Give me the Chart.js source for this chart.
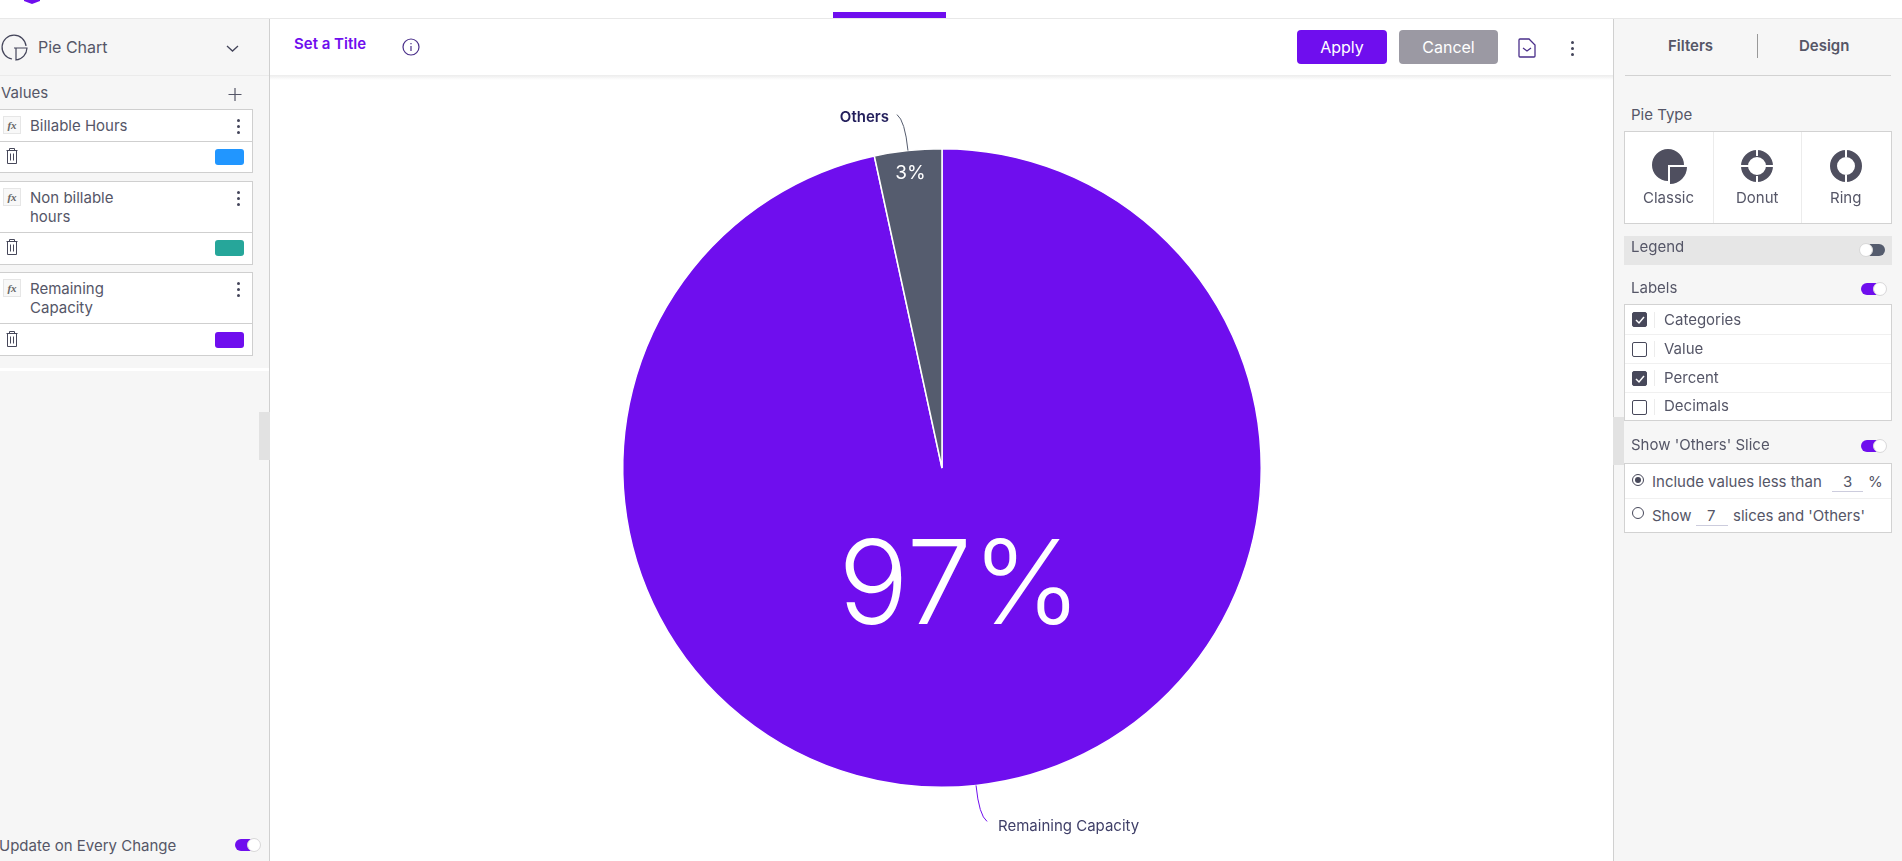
<!DOCTYPE html>
<html>
<head>
<meta charset="utf-8">
<title>Pie Chart</title>
<script src="https://cdn.jsdelivr.net/npm/chart.js@4/dist/chart.umd.min.js"></script>
<style>
  html, body { margin: 0; padding: 0; width: 1902px; height: 861px; overflow: hidden; background: #fff; }
  body, div, span { font-family: Inter, "Noto Sans", sans-serif; color: #555667; font-size: 15px; }
  .a { position: absolute; box-sizing: border-box; }
  .t { position: absolute; white-space: nowrap; line-height: 20px; height: 20px; }
  .b { font-weight: 600; }
  .card { position: absolute; left: -1px; width: 254px; background: #fff; border: 1px solid #cfcfcf; box-sizing: border-box; }
  .swatch { position: absolute; left: 215px; width: 29px; height: 16px; border-radius: 3px; }
  .fx { position: absolute; left: 3px; width: 18px; height: 18px; background: #f8f8f8; border: 1px solid #e6e6e6; box-sizing: border-box; font: italic bold 11px "Liberation Serif", serif; text-align: center; line-height: 16px; color: #666; }
  .dot3 { position: absolute; width: 3px; height: 3px; border-radius: 50%; background: #44455a; }
  .box { position: absolute; left: 1624px; width: 268px; border: 1px solid #d2d2d2; background: #fff; box-sizing: border-box; }
  .tog { position: absolute; width: 25px; height: 12px; border-radius: 6px; background: #6f0eee; }
  .tog i { position: absolute; right: -1px; top: -1px; width: 12px; height: 12px; border-radius: 50%; background: #fff; border: 1px solid #d8d8d8; }
  .tog.off { background: #555c6e; }
  .tog.off i { right: auto; left: -1px; }
  .chk { position: absolute; left: 1632px; width: 15px; height: 15px; border-radius: 2px; border: 1px solid #47485a; box-sizing: border-box; background: #fff; }
  .chk.on { background: #47485a; }
  .hl { position: absolute; height: 1px; background: #f0f0f0; }
  .vl { position: absolute; width: 1px; background: #ececec; }
  .radio { position: absolute; left: 1632px; width: 12px; height: 12px; border-radius: 50%; border: 1px solid #47485a; box-sizing: border-box; background: #fff; }
  .ul { position: absolute; height: 1px; background: #ccd; }
  svg { position: absolute; overflow: visible; }
</style>
</head>
<body>

<!-- top strip -->
<div class="a" style="left:0;top:18px;width:1902px;height:1px;background:#e8e8e8"></div>
<div class="a" style="left:833px;top:12px;width:113px;height:6px;background:#6f0eee"></div>
<svg style="left:24px;top:0" width="16" height="5"><path d="M0 0 L16 0 L16 1 L8 4 L0 1 Z" fill="#6f0eee"/></svg>

<!-- left panel -->
<div class="a" style="left:0;top:19px;width:270px;height:842px;background:#f6f6f6;border-right:1px solid #d0d0d0"></div>
<div class="a" style="left:0;top:75px;width:269px;height:1px;background:#ebebeb"></div>
<svg style="left:2px;top:34px" width="26" height="26" fill="none" stroke="#44455a" stroke-width="1.2">
  <path d="M24 12 A12 12 0 1 0 10 25"/><path d="M2 0" /><path d="M12 14 H25 A12.5 12.5 0 0 1 14 26 V14"/>
</svg>
<div class="t" style="left:38px;top:37px;font-size:16px">Pie Chart</div>
<svg style="left:226px;top:44px" width="14" height="9" fill="none" stroke="#44455a" stroke-width="1.3"><path d="M1 2 L6.5 7 L12 2"/></svg>
<div class="t" style="left:1px;top:83px">Values</div>
<svg style="left:228px;top:88px" width="14" height="14" stroke="#555667" stroke-width="1.2"><path d="M7 0 V13 M0.5 6.5 H13.5"/></svg>

<div class="card" style="top:109px;height:64px"><div class="a" style="left:0;top:31px;width:252px;height:1px;background:#cfcfcf"></div></div>
<div class="card" style="top:181px;height:84px"><div class="a" style="left:0;top:50px;width:252px;height:1px;background:#cfcfcf"></div></div>
<div class="card" style="top:272px;height:84px"><div class="a" style="left:0;top:50px;width:252px;height:1px;background:#cfcfcf"></div></div>
<div class="fx" style="top:116px">fx</div><div class="fx" style="top:188px">fx</div><div class="fx" style="top:279px">fx</div>
<div class="t" style="left:30px;top:116px">Billable Hours</div>
<div class="t" style="left:30px;top:188px">Non billable</div>
<div class="t" style="left:30px;top:207px">hours</div>
<div class="t" style="left:30px;top:279px">Remaining</div>
<div class="t" style="left:30px;top:298px">Capacity</div>
<div class="swatch" style="top:149px;background:#2196ff"></div>
<div class="swatch" style="top:240px;background:#26a69a"></div>
<div class="swatch" style="top:332px;background:#6f0eee"></div>
<div class="a" style="left:0;top:368px;width:269px;height:3px;background:#fff"></div>
<svg style="left:0;top:0" width="270" height="861" fill="none" stroke="#47485a" stroke-width="1">
  <g id="trash1"><path d="M6.5 150.500 H17.500 M9.500 150.500 V148.500 H14.500 V150.500 M7.500 150.500 V163.500 H16.500 V150.500 M10.500 153.500 V160.500 M13.500 153.500 V160.500"/></g>
  <path d="M6.500 241.500 H17.500 M9.500 241.500 V239.500 H14.500 V241.500 M7.500 241.500 V254.500 H16.500 V241.500 M10.500 244.500 V251.500 M13.500 244.500 V251.500"/>
  <path d="M6.500 333.500 H17.500 M9.500 333.500 V331.500 H14.500 V333.500 M7.500 333.500 V346.500 H16.500 V333.500 M10.500 336.500 V343.500 M13.500 336.500 V343.500"/>
</svg>
<div class="dot3" style="left:237px;top:119px"></div><div class="dot3" style="left:237px;top:125px"></div><div class="dot3" style="left:237px;top:131px"></div>
<div class="dot3" style="left:237px;top:191px"></div><div class="dot3" style="left:237px;top:197px"></div><div class="dot3" style="left:237px;top:203px"></div>
<div class="dot3" style="left:237px;top:282px"></div><div class="dot3" style="left:237px;top:288px"></div><div class="dot3" style="left:237px;top:294px"></div>
<div class="a" style="left:259px;top:412px;width:11px;height:48px;background:#e2e2e2"></div>
<div class="t" style="left:-1px;top:836px">Update on Every Change</div>
<div class="tog" style="left:235px;top:839px"><i></i></div>

<!-- toolbar -->
<div class="a" style="left:270px;top:75px;width:1343px;height:5px;background:linear-gradient(#ececec,#fff)"></div>
<div class="t b" style="left:294px;top:34px;color:#6f0eee;font-size:15px">Set a Title</div>
<svg style="left:402px;top:38px" width="18" height="18" fill="none" stroke="#4a2f8a" stroke-width="1.2"><circle cx="9" cy="9" r="8"/><path d="M9 8 V13 M9 5 V6.200"/></svg>
<div class="a" style="left:1297px;top:30px;width:90px;height:34px;background:#6f0eee;border-radius:4px;color:#fff;text-align:center;line-height:34px;font-size:16px">Apply</div>
<div class="a" style="left:1399px;top:30px;width:99px;height:34px;background:#9b99a3;border-radius:4px;color:#fff;text-align:center;line-height:34px;font-size:16px">Cancel</div>
<svg style="left:1518px;top:38px" width="18" height="20" fill="none" stroke="#4a2f8a" stroke-width="1.3"><path d="M1 2 Q1 1 2 1 H11 L17 7 V18 Q17 19 16 19 H2 Q1 19 1 18 Z M5 10 L9 13 L13 10"/></svg>
<div class="dot3" style="left:1571px;top:41px"></div><div class="dot3" style="left:1571px;top:47px"></div><div class="dot3" style="left:1571px;top:53px"></div>

<!-- chart -->
<canvas id="pie" class="a" style="left:272px;top:76px" width="1340" height="785"></canvas>

<!-- right panel -->
<div class="a" style="left:1613px;top:19px;width:289px;height:842px;background:#f6f6f6;border-left:1px solid #d0d0d0"></div>
<div class="t b" style="left:1668px;top:36px">Filters</div>
<div class="a" style="left:1757px;top:34px;width:1px;height:24px;background:#999"></div>
<div class="t b" style="left:1799px;top:36px">Design</div>
<div class="a" style="left:1625px;top:75px;width:266px;height:1px;background:#d2d2d2"></div>
<div class="t" style="left:1631px;top:105px">Pie Type</div>

<div class="box" style="top:131px;height:93px"></div>
<div class="vl" style="left:1713px;top:132px;height:91px"></div>
<div class="vl" style="left:1801px;top:132px;height:91px"></div>
<svg style="left:0;top:0" width="1902" height="861" fill="#4f4f5f">
  <path d="M1668 165 V149 A16 16 0 1 0 1668 181 V165 Z M1668 149 A16 16 0 0 1 1684 165 H1668 Z"/>
  <path d="M1670 167 H1687 A17 17 0 0 1 1670 184 Z"/>
  <g fill="none" stroke="#4f4f5f" stroke-width="7">
    <circle cx="1757" cy="166" r="12.500"/>
    <circle cx="1846" cy="166" r="12.500"/>
  </g>
  <g stroke="#fff" stroke-width="2">
    <path d="M1740 166 H1774 M1757 149 V156 M1757 176 V183 M1846 148 V157 M1846 175 V184"/>
  </g>
</svg>
<div class="t" style="left:1643px;top:188px">Classic</div>
<div class="t" style="left:1736px;top:188px">Donut</div>
<div class="t" style="left:1830px;top:188px">Ring</div>

<div class="a" style="left:1624px;top:236px;width:268px;height:29px;background:#e6e6e6"></div>
<div class="t" style="left:1631px;top:237px">Legend</div>
<div class="tog off" style="left:1860px;top:244px"><i></i></div>
<div class="t" style="left:1631px;top:278px">Labels</div>
<div class="tog" style="left:1861px;top:283px"><i></i></div>

<div class="box" style="top:304px;height:117px"></div>
<div class="hl" style="left:1625px;top:334px;width:266px"></div>
<div class="hl" style="left:1625px;top:363px;width:266px"></div>
<div class="hl" style="left:1625px;top:392px;width:266px"></div>
<div class="vl" style="left:1654px;top:312px;height:16px"></div>
<div class="vl" style="left:1654px;top:341px;height:16px"></div>
<div class="vl" style="left:1654px;top:370px;height:16px"></div>
<div class="vl" style="left:1654px;top:399px;height:16px"></div>
<div class="chk on" style="top:312px"></div>
<div class="chk" style="top:342px"></div>
<div class="chk on" style="top:371px"></div>
<div class="chk" style="top:400px"></div>
<svg style="left:0;top:0" width="1902" height="861" fill="none" stroke="#fff" stroke-width="1.500">
  <path d="M1636 320 L1639 323 L1644 317"/>
  <path d="M1636 379 L1639 382 L1644 376"/>
</svg>
<div class="t" style="left:1664px;top:310px">Categories</div>
<div class="t" style="left:1664px;top:339px">Value</div>
<div class="t" style="left:1664px;top:368px">Percent</div>
<div class="t" style="left:1664px;top:396px">Decimals</div>

<div class="a" style="left:1613px;top:417px;width:11px;height:48px;background:#e2e2e2"></div>
<div class="t" style="left:1631px;top:435px">Show 'Others' Slice</div>
<div class="tog" style="left:1861px;top:440px"><i></i></div>

<div class="box" style="top:463px;height:70px"></div>
<div class="hl" style="left:1625px;top:498px;width:266px"></div>
<div class="radio" style="top:474px"></div>
<div class="a" style="left:1635px;top:477px;width:6px;height:6px;border-radius:50%;background:#47485a"></div>
<div class="radio" style="top:507px"></div>
<div class="t" style="left:1652px;top:472px">Include values less than</div>
<div class="t" style="left:1843px;top:472px">3</div>
<div class="ul" style="left:1832px;top:491px;width:31px"></div>
<div class="t" style="left:1868px;top:472px">%</div>
<div class="t" style="left:1652px;top:506px">Show</div>
<div class="t" style="left:1707px;top:506px">7</div>
<div class="ul" style="left:1696px;top:525px;width:32px"></div>
<div class="t" style="left:1733px;top:506px">slices and 'Others'</div>

<script>
// values
const categories = ['Remaining Capacity', 'Others'];
const sliceValues = [96.6, 3.4];
const sliceColors = ['#6f0eee', '#555c6e'];
const leaderColors = ['#6f0eee', '#555c6e'];

const total = sliceValues.reduce((a, b) => a + b, 0);

// percent labels and category labels with a curved leader, drawn from the arcs
const sliceLabels = {
  id: 'sliceLabels',
  afterDatasetsDraw(chart) {
    const { ctx } = chart;
    chart.getDatasetMeta(0).data.forEach((arc, i) => {
      const { x, y, startAngle, endAngle, outerRadius } = arc.getProps(['x', 'y', 'startAngle', 'endAngle', 'outerRadius'], true);
      const mid = (startAngle + endAngle) / 2;
      const big = i === 0;
      const px = x + Math.cos(mid) * outerRadius * (big ? 0.38 : 0.93);
      const py = y + Math.sin(mid) * outerRadius * (big ? 0.38 : 0.93);
      ctx.save();
      ctx.fillStyle = '#fff';
      ctx.textAlign = 'center';
      ctx.textBaseline = 'middle';
      ctx.font = big ? '300 117px Inter' : '400 19px Inter';
      const pct = Math.round(sliceValues[i] / total * 100) + '%';
      ctx.fillText(pct, px + (big ? 5 : 0), py);

      // leader
      const ax = x + Math.cos(mid) * outerRadius;
      const ay = y + Math.sin(mid) * outerRadius;
      const dir = big ? 1 : -1;
      ctx.strokeStyle = leaderColors[i];
      ctx.lineWidth = 1;
      ctx.beginPath();
      ctx.moveTo(ax, ay);
      ctx.quadraticCurveTo(ax + dir * 3, ay + dir * 30, ax + dir * 11, ay + dir * 36);
      ctx.stroke();

      ctx.textBaseline = 'middle';
      if (big) {
        ctx.textAlign = 'left';
        ctx.font = '400 15px Inter';
        ctx.fillStyle = '#3f3f68';
        ctx.fillText(categories[i], ax + 22, ay + 41);
      } else {
        ctx.textAlign = 'right';
        ctx.font = '600 15px Inter';
        ctx.fillStyle = '#231f5c';
        ctx.fillText(categories[i], ax - 19, ay - 33);
      }
      ctx.restore();
    });
  },
};

new Chart(document.getElementById('pie'), {
  type: 'pie',
  plugins: [sliceLabels],
  data: {
    labels: categories,
    datasets: [{
      data: sliceValues,
      backgroundColor: sliceColors,
      borderColor: '#fff',
      borderWidth: 1.5,
      hoverOffset: 0,
    }],
  },
  options: {
    animation: false,
    responsive: false,
    layout: { padding: { top: 72, bottom: 73 } },
    plugins: { legend: { display: false }, tooltip: { enabled: false }, title: { display: false } },
  },
});
</script>
</body>
</html>
